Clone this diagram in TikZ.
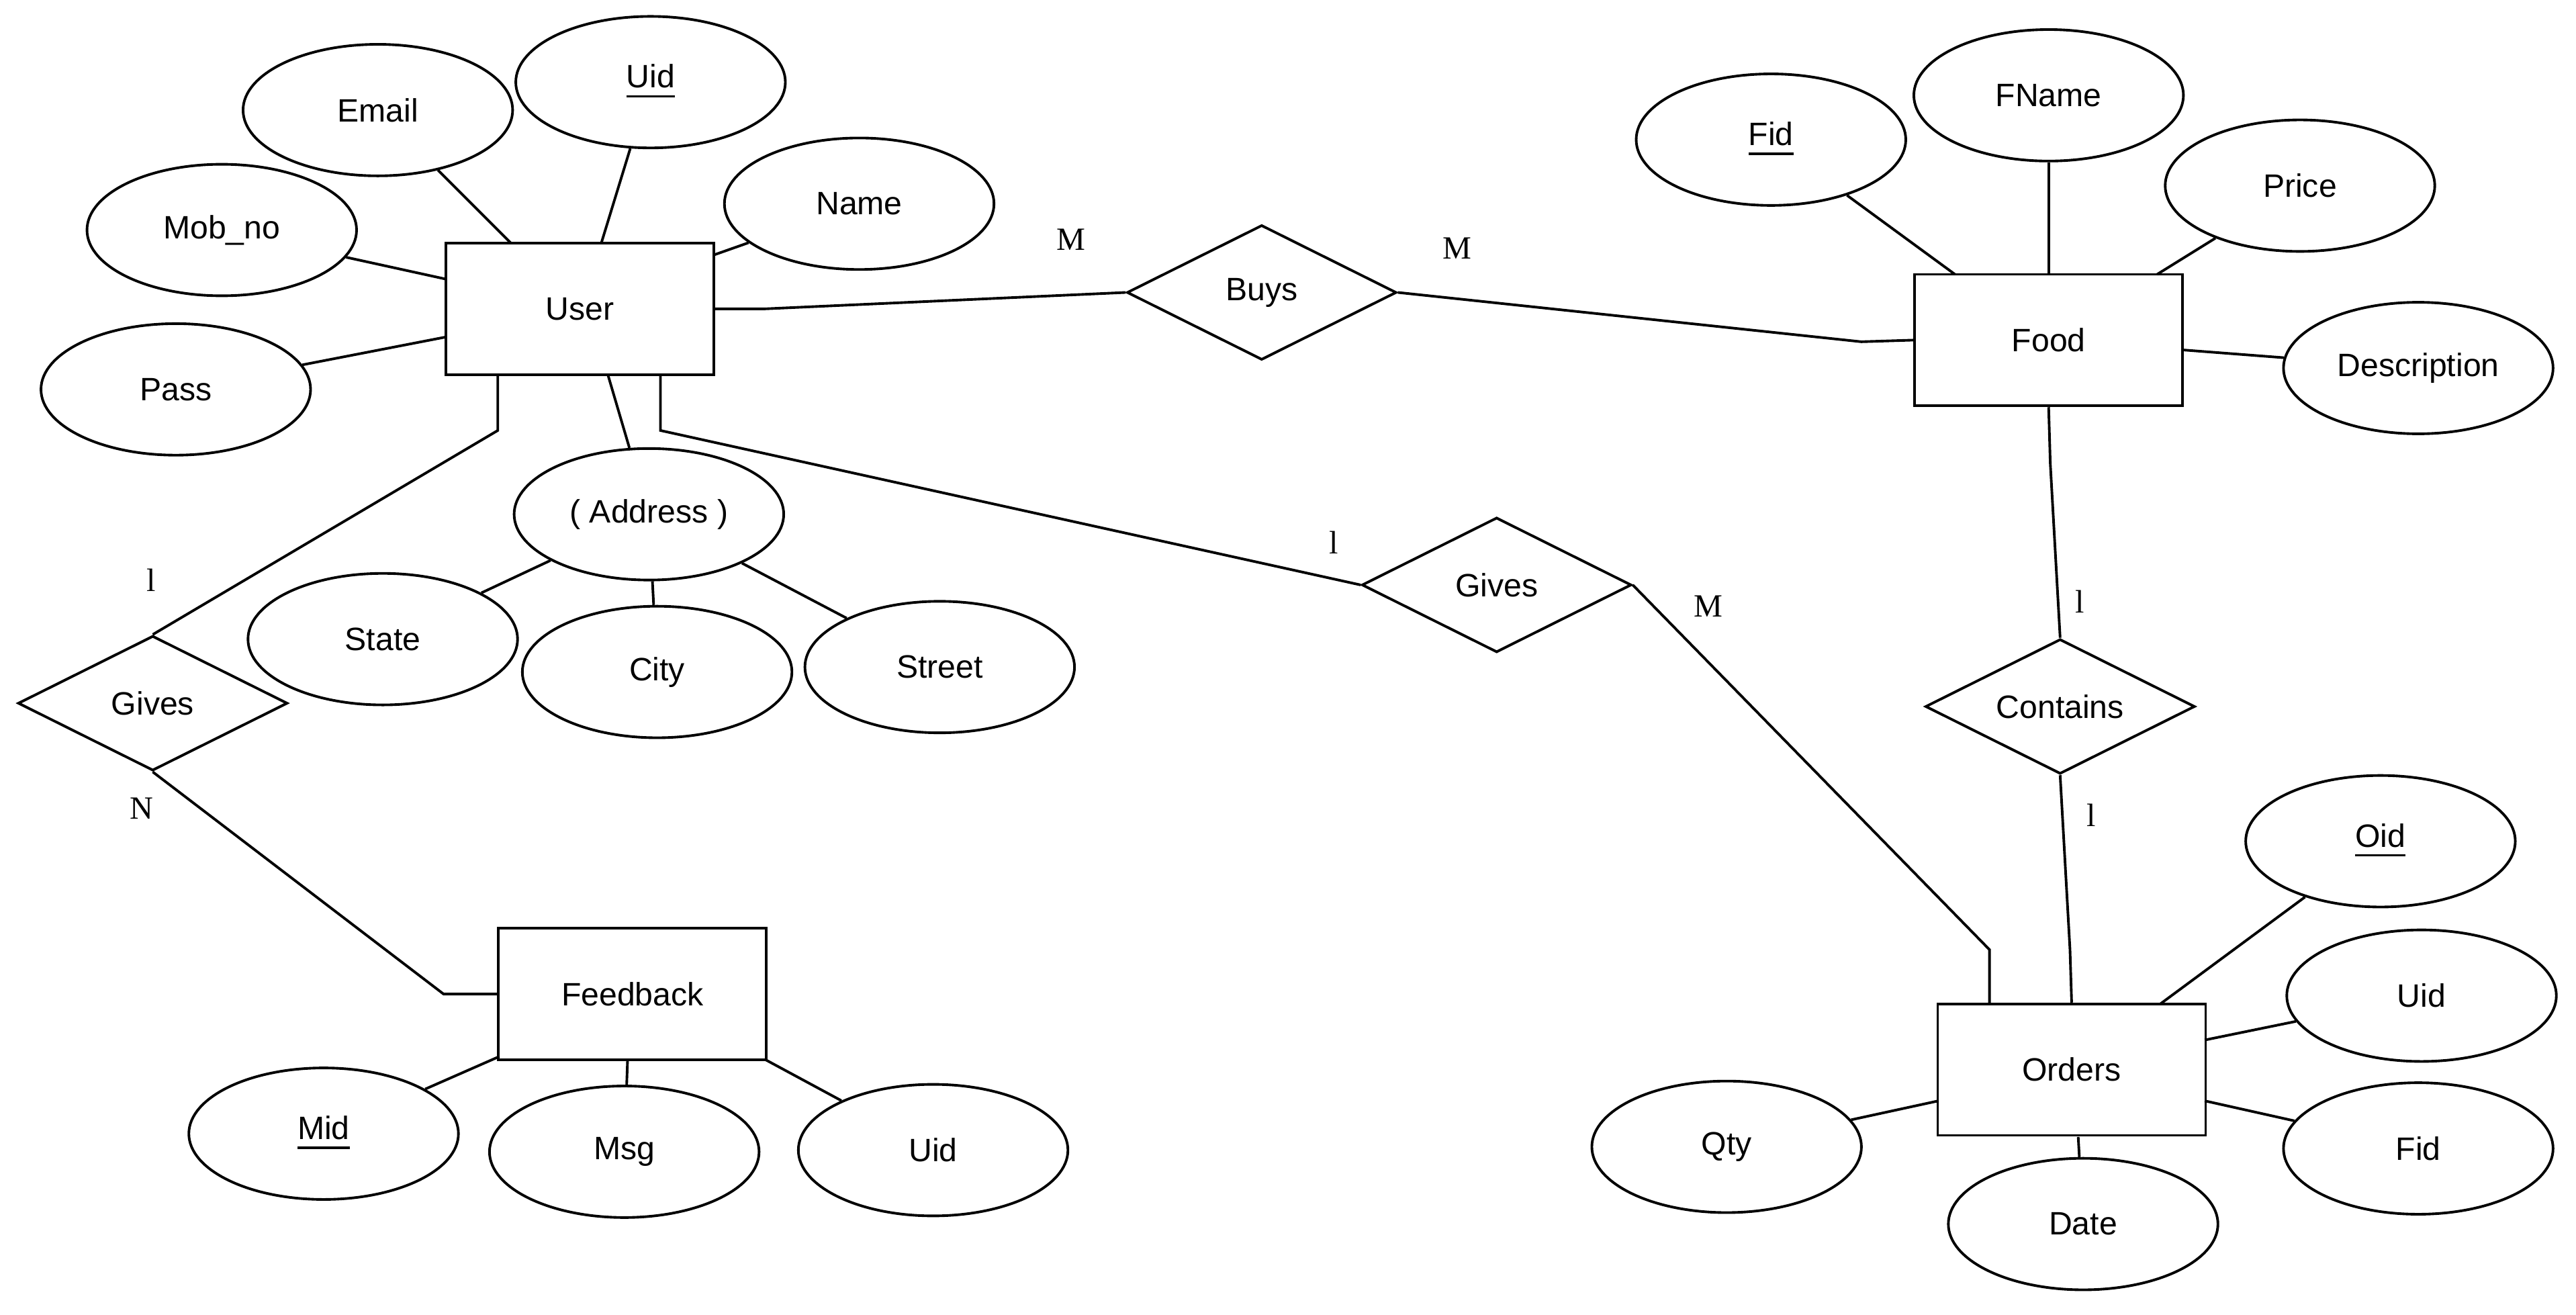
\documentclass[tikz,border=0pt]{standalone}
\usepackage{fontspec}
\setmainfont{Liberation Sans}
\newfontfamily\lbl{Liberation Serif}
\usetikzlibrary{shapes.geometric}
\begin{document}
\begin{tikzpicture}[x=0.01cm,y=-0.01cm,line width=0.45pt,
 every node/.style={font=\fontsize{5.6}{6}\selectfont},
 ent/.style={draw,minimum width=1.63cm,minimum height=0.8cm,inner sep=0},
 att/.style={draw,ellipse,minimum width=1.64cm,minimum height=0.8cm,inner sep=0},
 rel/.style={draw,diamond,aspect=2,minimum width=1.64cm,minimum height=0.82cm,inner sep=0},
 card/.style={font=\lbl\fontsize{5.6}{6}\selectfont}]
\useasboundingbox (0,0) rectangle (1568,800);
\node[ent] (user) at (353,188) {User};
\node[ent] (food) at (1247,207) {Food};
\node[ent] (fb) at (385,605) {Feedback};
\node[ent] (ord) at (1261,651) {Orders};
\node[rel] (buys) at (768,178) {Buys};
\node[rel] (g1) at (911,356) {Gives};
\node[rel] (g2) at (93,428) {Gives};
\node[rel] (cont) at (1254,430) {Contains};
\node[att] (email) at (230,67) {Email};
\node[att] (uid) at (396,50) {\underline{Uid}};
\node[att] (mob) at (135,140) {Mob\_no};
\node[att] (name) at (523,124) {Name};
\node[att] (pass) at (107,237) {Pass};
\node[att] (addr) at (395,313) {( Address )};
\node[att] (state) at (233,389) {State};
\node[att] (city) at (400,409) {City};
\node[att] (street) at (572,406) {Street};
\node[att] (fid) at (1078,85) {\underline{Fid}};
\node[att] (fname) at (1247,58) {FName};
\node[att] (price) at (1400,113) {Price};
\node[att] (desc) at (1472,224) {Description};
\node[att] (oid) at (1449,512) {\underline{Oid}};
\node[att] (ouid) at (1474,606) {Uid};
\node[att] (ofid) at (1472,699) {Fid};
\node[att] (qty) at (1051,698) {Qty};
\node[att] (date) at (1268,745) {Date};
\node[att] (mid) at (197,690) {\underline{Mid}};
\node[att] (msg) at (380,701) {Msg};
\node[att] (fuid) at (568,700) {Uid};
\draw (email) -- (311,148);
\draw (uid) -- (366,148);
\draw (mob) -- (272,170);
\draw (name) -- (435,155);
\draw (pass) -- (272,205);
\draw (addr) -- (370,228);
\draw (addr) -- (state);
\draw (addr) -- (city);
\draw (addr) -- (street);
\draw (fid) -- (1190,167);
\draw (fname) -- (food);
\draw (price) -- (1313,167);
\draw (desc) -- (1329,213);
\draw (oid) -- (1315,611);
\draw (ouid) -- (1342,633);
\draw (ofid) -- (1342,670);
\draw (qty) -- (1180,670);
\draw (date) -- (1265,692);
\draw (mid) -- (304,643);
\draw (msg) -- (382,645);
\draw (fuid) -- (466,645);
\draw (user.east) -- (465,188) -- (buys.west);
\draw (buys.east) -- (1133,208) -- (food.west);
\draw (402,228) -- (402,262) -- (g1.west);
\draw (g1.east) -- (1211,578) -- (1211,611);
\draw (303,228) -- (303,262) -- (g2.north);
\draw (g2.south) -- (270,605) -- (fb.west);
\draw (food.south) -- (1248,282) -- (cont.north);
\draw (cont.south) -- (1260,578) -- (ord.north);
\node[card] at (652,146) {M};
\node[card] at (887,151) {M};
\node[card] at (812,330) {l};
\node[card] at (1040,369) {M};
\node[card] at (92,353) {l};
\node[card] at (86,492) {N};
\node[card] at (1266,366) {l};
\node[card] at (1273,496) {l};
\end{tikzpicture}
\end{document}
